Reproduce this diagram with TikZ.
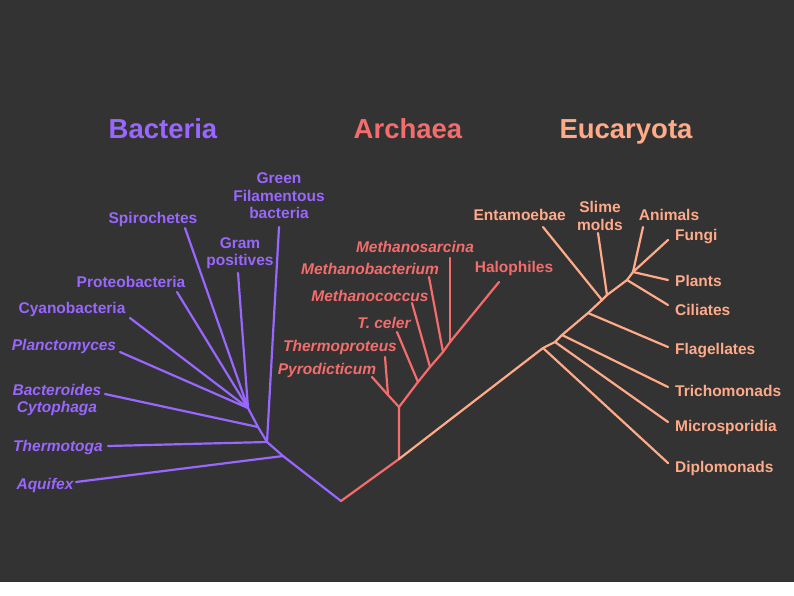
\documentclass[tikz,border=0pt]{standalone}
\usepackage{fontspec}
\setmainfont{Liberation Sans}
\begin{document}
\begin{tikzpicture}[x=1pt,y=-1pt,
  lab/.style={font=\bfseries\fontsize{15.5}{17.5}\selectfont,inner sep=0pt,align=center},
  it/.style={lab,font=\bfseries\itshape\fontsize{15.5}{17.5}\selectfont},
  ttl/.style={font=\bfseries\fontsize{27.5}{30}\selectfont,inner sep=0pt,anchor=base},
  br/.style={line width=2.2pt,line cap=round}]
\definecolor{bg}{HTML}{333333}
\definecolor{bac}{HTML}{9966FF}
\definecolor{arc}{HTML}{F46C6C}
\definecolor{euk}{HTML}{FFAA88}
\useasboundingbox (0,0) rectangle (794,595);
\fill[white] (0,0) rectangle (794,595);
\fill[bg] (0,0) rectangle (794,582);
% titles
\node[ttl,text=bac] (tB) at (163,138) {Bacteria};
\node[ttl,text=arc] (tA) at (408,138) {Archaea};
\node[ttl,text=euk] (tE) at (626,138) {Eucaryota};
% coordinates
\coordinate (root) at (341,501);
\coordinate (b1) at (283,456);
\coordinate (b2) at (267,442);
\coordinate (b3) at (258,427);
\coordinate (b4) at (248,408);
\coordinate (a1) at (399,459);
\coordinate (a2) at (399,407);
\coordinate (a3) at (388,395);
\coordinate (a4) at (418,382);
\coordinate (a5) at (430,367);
\coordinate (a6) at (443,352);
\coordinate (a7) at (450,342);
\coordinate (e1) at (543,348);
\coordinate (e2) at (555,342);
\coordinate (e3) at (562,335);
\coordinate (e4) at (588,313);
\coordinate (e5) at (602,300);
\coordinate (e6) at (607,295);
\coordinate (e7) at (627,280);
\coordinate (e8) at (633,272);
% bacteria labels
\begin{scope}[text=bac]
\node[lab] (gf) at (279,196) {Green\\Filamentous\\bacteria};
\node[lab] (sp) at (153,219) {Spirochetes};
\node[lab] (gp) at (240,253) {Gram\\positives};
\node[lab] (pr) at (131,282) {Proteobacteria};
\node[lab] (cy) at (72,309) {Cyanobacteria};
\node[it] (pl) at (64,346) {Planctomyces};
\node[it] (bc) at (57,400) {Bacteroides\\Cytophaga};
\node[it] (th) at (58,447) {Thermotoga};
\node[it] (aq) at (45,485) {Aquifex};
\end{scope}
\begin{scope}[br,bac]
\draw (root) -- (b1) -- (b2) -- (b3) -- (b4);
\draw (b1) -- (76,482);
\draw (b2) -- (108,446);
\draw (b2) -- (279,227);
\draw (b3) -- (105,394);
\draw (b4) -- (120,352);
\draw (b4) -- (130,318);
\draw (b4) -- (177,292);
\draw (b4) -- (185,228);
\draw (b4) -- (238,273);
\end{scope}
% archaea labels
\begin{scope}[text=arc]
\node[it] (ms) at (415,247) {Methanosarcina};
\node[it] (mb) at (370,269) {Methanobacterium};
\node[it] (mc) at (370,296) {Methanococcus};
\node[it] (tc) at (384,323) {T. celer};
\node[it] (tp) at (340,347) {Thermoproteus};
\node[it] (py) at (327,370) {Pyrodicticum};
\node[lab] (ha) at (514,268) {Halophiles};
\end{scope}
\begin{scope}[br,arc]
\draw (root) -- (a1) -- (a2);
\draw (a2) -- (a3) -- (372,377);
\draw (a3) -- (385,357);
\draw (a2) -- (a4) -- (a5) -- (a6) -- (a7) -- (499,282);
\draw (a4) -- (397,332);
\draw (a5) -- (412,303);
\draw (a6) -- (429,277);
\draw (a7) -- (450,258);
\end{scope}
% eukaryote labels
\begin{scope}[text=euk]
\node[lab,anchor=east] (en) at (566,215) {Entamoebae};
\node[lab] (sm) at (600,216) {Slime\\molds};
\node[lab] (an) at (669,215) {Animals};
\node[lab,anchor=west] (fu) at (675,237) {Fungi};
\node[lab,anchor=west] (plt) at (675,281) {Plants};
\node[lab,anchor=west] (ci) at (675,310) {Ciliates};
\node[lab,anchor=west] (fl) at (675,351) {Flagellates};
\node[lab,anchor=west] (tr) at (675,391) {Trichomonads};
\node[lab,anchor=west] (mi) at (675,427) {Microsporidia};
\node[lab,anchor=west] (di) at (675,468) {Diplomonads};
\end{scope}
\begin{scope}[br,euk]
\draw (a1) -- (e1) -- (e2) -- (e3) -- (e4) -- (e5) -- (e6) -- (e7) -- (e8);
\draw (e1) -- (668,463);
\draw (e2) -- (668,422);
\draw (e3) -- (668,387);
\draw (e4) -- (668,347);
\draw (e5) -- (543,227);
\draw (e6) -- (598,233);
\draw (e7) -- (668,305);
\draw (e8) -- (643,227);
\draw (e8) -- (668,240);
\draw (e8) -- (668,280);
\end{scope}
\end{tikzpicture}
\end{document}
